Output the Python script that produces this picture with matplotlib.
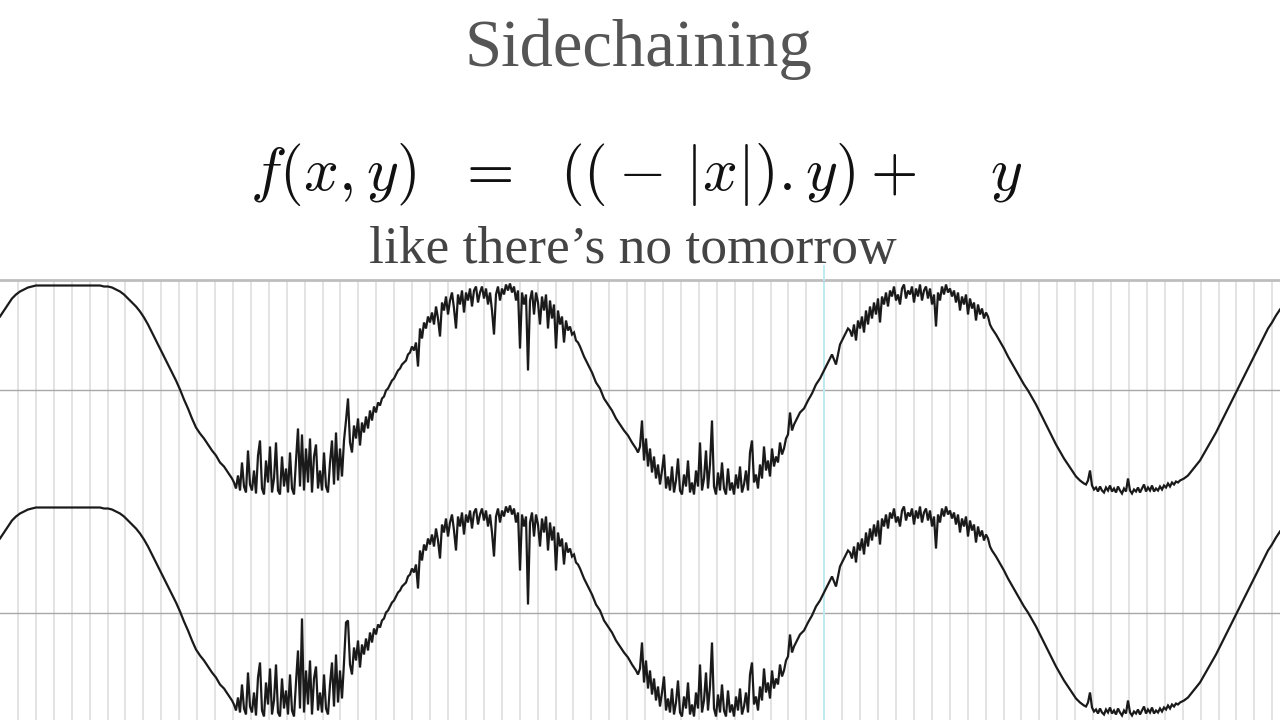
import numpy as np
import matplotlib
matplotlib.use("Agg")
import matplotlib.pyplot as plt

# ---------------- data ----------------
title_text = "Sidechaining"
formula_text = r"$f(x,y)\ \ =\ \ ((\!\,-\,|x|).y)+\quad\,y$"
subtitle_text = "like there\u2019s no tomorrow"

# waveform level (pixels above panel centre),
# stored as segments: (first pixel column, column step, levels)
seg_rise_top = (0, 4, [
    74, 80, 86, 92, 96, 99, 101, 103, 104, 105,
    105, 105, 105, 105, 105, 105, 105, 105, 105, 105,
    105, 105, 105, 105, 105, 105, 104, 104, 103, 101,
    99, 96, 92, 88, 84, 79, 73, 66, 58, 50,
    42, 34, 26, 18, 10, 1, -9, -18, -28, -37,
    -43, -48, -54, -60, -65, -72, -76, -82, -88,
])
seg_trough1 = (234, 2, [
    -92, -98, -85, -100, -72, -96, -102, -60, -94, -100,
    -80, -103, -65, -50, -98, -104, -70, -92, -56, -102,
    -88, -52, -100, -104, -66, -96, -78, -102, -62, -98,
    -104, -70, -38, -96, -44, -100, -58, -92, -48, -102,
    -66, -54, -98, -80, -100, -62, -96, -102, -72, -50,
    -94, -42, -90, -58, -86, -50, -30, -8, -52, -62,
    -35, -48, -28, -55, -32, -42, -26, -38, -20, -30,
    -16, -22, -12, -15, -8, -6, 0, 2, 6, 10,
    12, 16, 20, 22, 26, 28, 30, 36, 38, 44,
    40, 48, 24, 62, 52, 68, 62, 74, 68,
])
seg_peak1 = (432, 2, [
    78, 66, 84, 72, 54, 88, 80, 94, 76, 90,
    98, 82, 62, 96, 86, 100, 78, 98, 90, 102,
    84, 100, 104, 88, 98, 104, 92, 102, 86, 98,
    80, 56, 96, 104, 90, 102, 96, 106, 100, 107,
    98, 104, 90, 100, 42, 98, 86, 96, 20, 90,
    100, 76, 98, 88, 66, 94, 80, 96, 62, 90,
    72, 86, 42, 80, 66, 74, 48, 70, 60, 64,
    56, 58, 50, 48, 44,
])
seg_fall1 = (584, 4, [
    34, 26, 18, 8, 2, -8, -14, -20, -28, -34,
    -40, -45, -52, -58,
])
seg_trough2 = (638, 2, [
    -62, -56, -30, -70, -48, -76, -58, -82, -66, -88,
    -74, -94, -80, -64, -98, -86, -100, -76, -102, -90,
    -68, -100, -104, -84, -96, -70, -102, -92, -104, -80,
    -96, -52, -100, -88, -60, -98, -74, -30, -96, -104,
    -82, -100, -72, -98, -104, -78, -100, -92, -104, -84,
    -98, -76, -102, -94, -80, -100, -62, -50, -92, -84,
    -98, -74, -88, -56, -80, -70, -86, -58, -76, -66,
    -72, -52, -64, -58, -48, -44, -22, -40, -34, -30,
    -26, -22,
])
seg_rise2 = (804, 4, [
    -18, -10, -3, 6, 12, 20, 28, 36, 26, 46,
    54, 62,
])
seg_peak2 = (850, 2, [
    60, 54, 66, 50, 70, 62, 74, 58, 80, 66,
    84, 72, 88, 76, 92, 68, 94, 86, 98, 84,
    100, 94, 104, 90, 96, 86, 102, 106, 92, 100,
    96, 104, 88, 102, 94, 106, 90, 100, 104, 92,
    102, 86, 96, 64, 98, 90, 104, 96, 106, 98,
    102, 94, 100, 88, 98, 80, 94, 86, 96, 76,
    92, 82, 88, 70, 86, 76, 82, 72, 78, 74,
    66,
])
seg_fall2 = (992, 4, [
    62, 56, 49, 42, 34, 27, 20, 13, 6, 0,
    -7, -14, -22, -30, -38, -46, -54, -61, -68, -74,
    -80, -86, -90, -93,
])
seg_trough3 = (1086, 2, [
    -94, -90, -80, -95, -99, -97, -101, -96, -100, -102,
    -97, -100, -95, -101, -98, -102, -96, -100, -103, -98,
    -101, -88, -100, -103, -99, -101, -97, -102, -98, -94,
    -101, -97, -100, -95, -101, -98, -100, -96, -99, -95,
    -97, -93, -96, -92, -94, -91, -92, -90, -89, -88,
])
seg_rise3 = (1188, 4, [
    -85, -80, -75, -70, -63, -56, -49, -42, -34, -26,
    -18, -10, -2, 6, 14, 22, 30, 38, 46, 54,
    62, 68, 75, 81,
])
trace_segments = [seg_rise_top, seg_trough1, seg_peak1, seg_fall1,
                  seg_trough2, seg_rise2, seg_peak2, seg_fall2,
                  seg_trough3, seg_rise3]
# the lower trace differs from the upper one only at a few columns
lower_trace_changes = {302: -6, 346: -10, 528: 8}

grid_spacing = 17.92
cyan_line_x = 824.4

# ---------------- build traces ----------------
xs, ys = [], []
for x0, step, vals in trace_segments:
    xs.extend(x0 + step * i for i in range(len(vals)))
    ys.extend(vals)
xs = np.array(xs, dtype=float)
upper = np.array(ys, dtype=float)
lower = upper.copy()
for col, v in lower_trace_changes.items():
    lower[np.argmin(np.abs(xs - col))] = v

# ---------------- figure ----------------
W, H = 1280, 720
fig = plt.figure(figsize=(12.8, 7.2), dpi=100)
fig.patch.set_facecolor("white")


def fy(py):
    return 1 - py / H


panels = [(280, 501, upper), (501, 724, lower)]
for top, bot, wave in panels:
    ax = fig.add_axes([0, fy(bot), 1, (bot - top) / H])
    half = (bot - top) / 2
    ax.set_xlim(0, W)
    ax.set_ylim(-half, half)
    ax.set_xticks(np.arange(grid_spacing, W, grid_spacing))
    ax.set_yticks([])
    ax.tick_params(length=0, labelbottom=False)
    ax.grid(axis="x", color="#e3e3e3", linewidth=1.4)
    ax.axhline(0, color="#a8a8a8", linewidth=1.0)
    ax.axvline(cyan_line_x, color="#bfeaf2", linewidth=1.4)
    for s in ax.spines.values():
        s.set_visible(False)
    ax.plot(xs, wave, color="#1a1a1a", linewidth=1.6, clip_on=False,
            zorder=5, solid_joinstyle="miter")
    ax.set_facecolor("none")

# top rule
fig.add_artist(plt.Line2D([0, 1], [fy(279.5), fy(279.5)], color="#bdbdbd",
                          linewidth=2.0, transform=fig.transFigure))
# cyan line pokes above the rule
fig.add_artist(plt.Line2D([cyan_line_x / W, cyan_line_x / W], [fy(266), fy(280)],
                          color="#bfeaf2", linewidth=1.4, transform=fig.transFigure))

serif = ["Liberation Serif", "DejaVu Serif"]
fig.text(638 / W, fy(66), title_text, ha="center", va="baseline",
         fontsize=48, color="#555555", family=serif)
plt.rcParams["mathtext.fontset"] = "cm"
fig.text(636 / W, fy(190), formula_text, ha="center", va="baseline",
         fontsize=44, color="#111111")
fig.text(633 / W, fy(263), subtitle_text, ha="center", va="baseline",
         fontsize=38.5, color="#444444", family=serif)

fig.savefig("out.png", dpi=100, facecolor="white")
